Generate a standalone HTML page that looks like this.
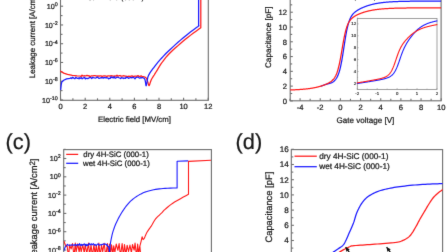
<!DOCTYPE html>
<html><head><meta charset="utf-8"><style>
html,body{margin:0;padding:0;background:#fff;}
svg{display:block;}
text{font-family:"Liberation Sans", Arial, Helvetica, sans-serif;fill:#1a1a1a;text-rendering:geometricPrecision;stroke:#1a1a1a;stroke-width:0.24px;}
</style></head><body>
<svg width="448" height="252" viewBox="0 0 448 252">
<defs><filter id="soft" x="0" y="0" width="448" height="252" filterUnits="userSpaceOnUse" color-interpolation-filters="sRGB"><feConvolveMatrix order="3" kernelMatrix="0.0064 0.0672 0.0064 0.0672 0.7056 0.0672 0.0064 0.0672 0.0064" edgeMode="duplicate" preserveAlpha="true"/></filter></defs>
<g filter="url(#soft)">
<rect width="448" height="252" fill="#fff"/>
<rect x="60.5" y="-30" width="147.8" height="130.3" fill="none" stroke="#6e6e6e" stroke-width="1.1"/>
<line x1="60.6" y1="100.3" x2="60.6" y2="97.7" stroke="#6e6e6e" stroke-width="1.1"/>
<line x1="72.9" y1="100.3" x2="72.9" y2="98.3" stroke="#6e6e6e" stroke-width="1.1"/>
<line x1="85.2" y1="100.3" x2="85.2" y2="97.7" stroke="#6e6e6e" stroke-width="1.1"/>
<line x1="97.5" y1="100.3" x2="97.5" y2="98.3" stroke="#6e6e6e" stroke-width="1.1"/>
<line x1="109.80000000000001" y1="100.3" x2="109.80000000000001" y2="97.7" stroke="#6e6e6e" stroke-width="1.1"/>
<line x1="122.1" y1="100.3" x2="122.1" y2="98.3" stroke="#6e6e6e" stroke-width="1.1"/>
<line x1="134.4" y1="100.3" x2="134.4" y2="97.7" stroke="#6e6e6e" stroke-width="1.1"/>
<line x1="146.70000000000002" y1="100.3" x2="146.70000000000002" y2="98.3" stroke="#6e6e6e" stroke-width="1.1"/>
<line x1="159.0" y1="100.3" x2="159.0" y2="97.7" stroke="#6e6e6e" stroke-width="1.1"/>
<line x1="171.3" y1="100.3" x2="171.3" y2="98.3" stroke="#6e6e6e" stroke-width="1.1"/>
<line x1="183.6" y1="100.3" x2="183.6" y2="97.7" stroke="#6e6e6e" stroke-width="1.1"/>
<line x1="195.9" y1="100.3" x2="195.9" y2="98.3" stroke="#6e6e6e" stroke-width="1.1"/>
<line x1="208.20000000000002" y1="100.3" x2="208.20000000000002" y2="97.7" stroke="#6e6e6e" stroke-width="1.1"/>
<line x1="60.5" y1="100.0" x2="63.1" y2="100.0" stroke="#6e6e6e" stroke-width="1.1"/>
<line x1="60.5" y1="90.62" x2="62.5" y2="90.62" stroke="#6e6e6e" stroke-width="1.1"/>
<line x1="60.5" y1="81.24" x2="63.1" y2="81.24" stroke="#6e6e6e" stroke-width="1.1"/>
<line x1="60.5" y1="71.86" x2="62.5" y2="71.86" stroke="#6e6e6e" stroke-width="1.1"/>
<line x1="60.5" y1="62.48" x2="63.1" y2="62.48" stroke="#6e6e6e" stroke-width="1.1"/>
<line x1="60.5" y1="53.099999999999994" x2="62.5" y2="53.099999999999994" stroke="#6e6e6e" stroke-width="1.1"/>
<line x1="60.5" y1="43.72" x2="63.1" y2="43.72" stroke="#6e6e6e" stroke-width="1.1"/>
<line x1="60.5" y1="34.33999999999999" x2="62.5" y2="34.33999999999999" stroke="#6e6e6e" stroke-width="1.1"/>
<line x1="60.5" y1="24.959999999999994" x2="63.1" y2="24.959999999999994" stroke="#6e6e6e" stroke-width="1.1"/>
<line x1="60.5" y1="15.579999999999998" x2="62.5" y2="15.579999999999998" stroke="#6e6e6e" stroke-width="1.1"/>
<line x1="60.5" y1="6.199999999999989" x2="63.1" y2="6.199999999999989" stroke="#6e6e6e" stroke-width="1.1"/>
<line x1="60.5" y1="-3.180000000000007" x2="62.5" y2="-3.180000000000007" stroke="#6e6e6e" stroke-width="1.1"/>
<line x1="60.5" y1="-12.560000000000002" x2="63.1" y2="-12.560000000000002" stroke="#6e6e6e" stroke-width="1.1"/>
<text x="60.60" y="109.3" font-size="7.5" text-anchor="middle" >0</text>
<text x="85.20" y="109.3" font-size="7.5" text-anchor="middle" >2</text>
<text x="109.80" y="109.3" font-size="7.5" text-anchor="middle" >4</text>
<text x="134.40" y="109.3" font-size="7.5" text-anchor="middle" >6</text>
<text x="159.00" y="109.3" font-size="7.5" text-anchor="middle" >8</text>
<text x="183.60" y="109.3" font-size="7.5" text-anchor="middle" >10</text>
<text x="208.20" y="109.3" font-size="7.5" text-anchor="middle" >12</text>
<text x="57.6" y="102.59" font-size="7.2" text-anchor="end">10<tspan font-size="5.3" dy="-2.74">-10</tspan></text>
<text x="57.6" y="83.83" font-size="7.2" text-anchor="end">10<tspan font-size="5.3" dy="-2.74">-8</tspan></text>
<text x="57.6" y="65.07" font-size="7.2" text-anchor="end">10<tspan font-size="5.3" dy="-2.74">-6</tspan></text>
<text x="57.6" y="46.31" font-size="7.2" text-anchor="end">10<tspan font-size="5.3" dy="-2.74">-4</tspan></text>
<text x="57.6" y="27.55" font-size="7.2" text-anchor="end">10<tspan font-size="5.3" dy="-2.74">-2</tspan></text>
<text x="57.6" y="8.79" font-size="7.2" text-anchor="end">10<tspan font-size="5.3" dy="-2.74">0</tspan></text>
<text x="134.5" y="121.6" font-size="7.8" text-anchor="middle" >Electric field [MV/cm]</text>
<text transform="translate(34.7,78.2) rotate(-90)" font-size="7.9">Leakage current [A/cm<tspan font-size="5.3" dy="-2.7">2</tspan><tspan dy="2.7">]</tspan></text>
<text x="83.2" y="-0.35" font-size="7.1" text-anchor="start" >wet 4H-SiC (000-1)</text>
<polyline points="60.70,71.20 63.70,73.10 67.50,74.40 72.30,75.30 77.00,75.80 80.00,76.00 81.00,76.51 82.00,75.13 83.00,76.03 84.00,75.73 85.00,75.76 86.00,75.84 87.00,75.29 88.00,75.83 89.00,75.64 90.00,76.90 91.00,75.97 92.00,75.79 93.00,75.82 94.00,75.70 95.00,75.58 96.00,75.78 97.00,76.04 98.00,75.83 99.00,76.19 100.00,75.84 101.00,75.91 102.00,76.36 103.00,76.06 104.00,75.75 105.00,75.85 106.00,76.06 107.00,76.48 108.00,75.82 109.00,75.83 110.00,76.20 111.00,75.63 112.00,75.81 113.00,76.16 114.00,76.07 115.00,75.93 116.00,76.12 117.00,75.09 118.00,76.26 119.00,75.68 120.00,75.49 121.00,76.09 122.00,76.24 123.00,75.91 124.00,75.74 125.00,76.09 126.00,76.08 127.00,76.54 128.00,76.36 129.00,76.21 130.00,76.50 131.00,76.12 132.00,75.93 133.00,76.40 134.00,76.41 135.00,76.19 136.00,76.04 137.00,76.36 138.00,75.56 139.00,76.54 140.00,76.49 141.00,75.87 142.00,76.40 143.00,76.50 143.63,76.70 144.53,76.96 145.50,77.40 146.30,78.10 146.90,79.26 147.40,80.77 147.83,82.29 148.20,83.50 148.49,84.37 148.70,85.06 148.88,85.50 149.10,85.60 149.36,85.25 149.64,84.52 149.92,83.63 150.20,82.80 150.46,82.06 150.71,81.31 150.98,80.55 151.30,79.80 151.68,79.04 152.11,78.28 152.56,77.52 153.00,76.80 153.40,76.17 153.78,75.60 154.20,74.98 154.70,74.20 155.32,73.20 156.02,72.04 156.76,70.82 157.50,69.60 158.22,68.40 158.96,67.17 159.71,65.93 160.50,64.70 161.33,63.47 162.19,62.24 163.08,61.02 164.00,59.80 164.94,58.60 165.91,57.41 166.92,56.21 168.00,55.00 169.18,53.75 170.44,52.47 171.73,51.21 173.00,50.00 174.13,48.95 175.19,48.01 176.40,46.97 178.00,45.60 180.15,43.76 182.69,41.59 185.38,39.33 188.00,37.20 190.67,35.13 193.45,33.05 196.01,31.17 198.00,29.70 199.27,28.77 200.03,28.23 200.47,27.93 200.80,27.70 200.80,-5.00" fill="none" stroke="#ff1a1a" stroke-width="1.25" stroke-linejoin="round" stroke-linecap="round" />
<polyline points="60.70,89.50 61.20,85.00 61.80,81.90 63.70,80.30 66.60,78.90 70.00,78.40 71.00,77.77 71.80,78.54 72.60,77.28 73.40,77.79 74.20,78.52 75.00,78.72 75.80,77.23 76.60,77.98 77.40,78.35 78.20,77.93 79.00,78.92 79.80,77.66 80.60,78.35 81.40,77.70 82.20,78.79 83.00,78.13 83.80,77.96 84.60,77.33 85.40,78.85 86.20,78.41 87.00,78.40 87.80,78.56 88.60,78.19 89.40,77.72 90.20,77.64 91.00,77.62 91.80,78.58 92.60,77.29 93.40,77.66 94.20,77.77 95.00,78.00 95.80,78.14 96.60,77.31 97.40,77.07 98.20,77.83 99.00,78.37 99.80,78.14 100.60,77.89 101.40,77.63 102.20,77.89 103.00,77.63 103.80,78.09 104.60,77.35 105.40,77.76 106.20,77.65 107.00,77.94 107.80,77.80 108.60,78.85 109.40,78.37 110.20,78.37 111.00,76.78 111.80,77.55 112.60,77.43 113.40,77.94 114.20,76.67 115.00,78.23 115.80,78.18 116.60,77.11 117.40,77.26 118.20,77.34 119.00,77.72 119.80,77.99 120.60,78.62 121.40,77.61 122.20,78.05 123.00,77.77 123.80,78.49 124.60,78.03 125.40,78.32 126.20,77.22 127.00,77.61 127.80,77.33 128.60,78.38 129.40,78.00 130.20,77.56 131.00,77.50 131.80,77.92 132.60,77.38 133.40,77.28 134.20,77.92 135.00,78.81 135.80,77.59 136.60,77.45 137.40,77.17 138.20,77.10 139.00,77.94 139.80,78.08 140.60,77.70 141.40,77.85 142.00,77.60 142.29,77.65 142.72,77.71 143.18,77.81 143.60,78.00 143.96,78.25 144.31,78.56 144.62,78.96 144.90,79.50 145.12,80.25 145.30,81.17 145.45,82.13 145.60,83.00 145.73,83.88 145.85,84.78 145.97,85.50 146.10,85.80 146.26,85.55 146.44,84.90 146.63,84.05 146.80,83.20 146.96,82.35 147.11,81.42 147.25,80.47 147.40,79.60 147.53,78.83 147.64,78.12 147.79,77.42 148.00,76.70 148.30,75.93 148.68,75.14 149.08,74.35 149.50,73.60 149.89,72.94 150.28,72.34 150.73,71.69 151.30,70.90 152.04,69.89 152.91,68.74 153.82,67.55 154.70,66.40 155.49,65.36 156.25,64.37 157.06,63.34 158.00,62.20 159.13,60.89 160.39,59.46 161.71,58.00 163.00,56.60 164.13,55.39 165.19,54.27 166.40,53.05 168.00,51.50 170.15,49.47 172.69,47.11 175.38,44.64 178.00,42.30 180.50,40.12 183.00,37.99 185.50,35.91 188.00,33.90 190.72,31.82 193.59,29.71 196.16,27.85 198.00,26.50 198.82,25.86 198.93,25.74 198.71,25.85 198.60,25.90 198.60,-5.00" fill="none" stroke="#1a1aff" stroke-width="1.25" stroke-linejoin="round" stroke-linecap="round" />
<rect x="290.2" y="-30" width="150.90000000000003" height="130.8" fill="none" stroke="#6e6e6e" stroke-width="1.1"/>
<line x1="290.0" y1="100.8" x2="290.0" y2="98.8" stroke="#6e6e6e" stroke-width="1.1"/>
<line x1="300.08" y1="100.8" x2="300.08" y2="98.2" stroke="#6e6e6e" stroke-width="1.1"/>
<line x1="310.15999999999997" y1="100.8" x2="310.15999999999997" y2="98.8" stroke="#6e6e6e" stroke-width="1.1"/>
<line x1="320.23999999999995" y1="100.8" x2="320.23999999999995" y2="98.2" stroke="#6e6e6e" stroke-width="1.1"/>
<line x1="330.32" y1="100.8" x2="330.32" y2="98.8" stroke="#6e6e6e" stroke-width="1.1"/>
<line x1="340.4" y1="100.8" x2="340.4" y2="98.2" stroke="#6e6e6e" stroke-width="1.1"/>
<line x1="350.47999999999996" y1="100.8" x2="350.47999999999996" y2="98.8" stroke="#6e6e6e" stroke-width="1.1"/>
<line x1="360.56" y1="100.8" x2="360.56" y2="98.2" stroke="#6e6e6e" stroke-width="1.1"/>
<line x1="370.64" y1="100.8" x2="370.64" y2="98.8" stroke="#6e6e6e" stroke-width="1.1"/>
<line x1="380.71999999999997" y1="100.8" x2="380.71999999999997" y2="98.2" stroke="#6e6e6e" stroke-width="1.1"/>
<line x1="390.79999999999995" y1="100.8" x2="390.79999999999995" y2="98.8" stroke="#6e6e6e" stroke-width="1.1"/>
<line x1="400.88" y1="100.8" x2="400.88" y2="98.2" stroke="#6e6e6e" stroke-width="1.1"/>
<line x1="410.96" y1="100.8" x2="410.96" y2="98.8" stroke="#6e6e6e" stroke-width="1.1"/>
<line x1="421.03999999999996" y1="100.8" x2="421.03999999999996" y2="98.2" stroke="#6e6e6e" stroke-width="1.1"/>
<line x1="431.12" y1="100.8" x2="431.12" y2="98.8" stroke="#6e6e6e" stroke-width="1.1"/>
<line x1="441.2" y1="100.8" x2="441.2" y2="98.2" stroke="#6e6e6e" stroke-width="1.1"/>
<line x1="290.2" y1="100.9" x2="292.8" y2="100.9" stroke="#6e6e6e" stroke-width="1.1"/>
<line x1="290.2" y1="93.51" x2="292.2" y2="93.51" stroke="#6e6e6e" stroke-width="1.1"/>
<line x1="290.2" y1="86.12" x2="292.8" y2="86.12" stroke="#6e6e6e" stroke-width="1.1"/>
<line x1="290.2" y1="78.73" x2="292.2" y2="78.73" stroke="#6e6e6e" stroke-width="1.1"/>
<line x1="290.2" y1="71.34" x2="292.8" y2="71.34" stroke="#6e6e6e" stroke-width="1.1"/>
<line x1="290.2" y1="63.95000000000001" x2="292.2" y2="63.95000000000001" stroke="#6e6e6e" stroke-width="1.1"/>
<line x1="290.2" y1="56.56000000000001" x2="292.8" y2="56.56000000000001" stroke="#6e6e6e" stroke-width="1.1"/>
<line x1="290.2" y1="49.17000000000001" x2="292.2" y2="49.17000000000001" stroke="#6e6e6e" stroke-width="1.1"/>
<line x1="290.2" y1="41.78000000000001" x2="292.8" y2="41.78000000000001" stroke="#6e6e6e" stroke-width="1.1"/>
<line x1="290.2" y1="34.390000000000015" x2="292.2" y2="34.390000000000015" stroke="#6e6e6e" stroke-width="1.1"/>
<line x1="290.2" y1="27.000000000000014" x2="292.8" y2="27.000000000000014" stroke="#6e6e6e" stroke-width="1.1"/>
<line x1="290.2" y1="19.610000000000014" x2="292.2" y2="19.610000000000014" stroke="#6e6e6e" stroke-width="1.1"/>
<line x1="290.2" y1="12.220000000000013" x2="292.8" y2="12.220000000000013" stroke="#6e6e6e" stroke-width="1.1"/>
<line x1="290.2" y1="4.8300000000000125" x2="292.2" y2="4.8300000000000125" stroke="#6e6e6e" stroke-width="1.1"/>
<line x1="290.2" y1="-2.559999999999988" x2="292.8" y2="-2.559999999999988" stroke="#6e6e6e" stroke-width="1.1"/>
<text x="300.08" y="109.6" font-size="7.6" text-anchor="middle" >-4</text>
<text x="320.24" y="109.6" font-size="7.6" text-anchor="middle" >-2</text>
<text x="340.40" y="109.6" font-size="7.6" text-anchor="middle" >0</text>
<text x="360.56" y="109.6" font-size="7.6" text-anchor="middle" >2</text>
<text x="380.72" y="109.6" font-size="7.6" text-anchor="middle" >4</text>
<text x="400.88" y="109.6" font-size="7.6" text-anchor="middle" >6</text>
<text x="421.04" y="109.6" font-size="7.6" text-anchor="middle" >8</text>
<text x="441.20" y="109.6" font-size="7.6" text-anchor="middle" >10</text>
<text x="287.0" y="103.65" font-size="7.6" text-anchor="end" >0</text>
<text x="287.0" y="88.87" font-size="7.6" text-anchor="end" >2</text>
<text x="287.0" y="74.09" font-size="7.6" text-anchor="end" >4</text>
<text x="287.0" y="59.31" font-size="7.6" text-anchor="end" >6</text>
<text x="287.0" y="44.53" font-size="7.6" text-anchor="end" >8</text>
<text x="287.0" y="29.75" font-size="7.6" text-anchor="end" >10</text>
<text x="287.0" y="14.97" font-size="7.6" text-anchor="end" >12</text>
<text x="287.0" y="0.19" font-size="7.6" text-anchor="end" >14</text>
<text x="365.4" y="123.0" font-size="8.05" text-anchor="middle" >Gate voltage [V]</text>
<text transform="translate(270.8,68.0) rotate(-90)" font-size="8.13">Capacitance [pF]</text>
<text x="315.6" y="-0.6" font-size="7.1" text-anchor="start" >wet 4H-SiC (000-1)</text>
<clipPath id="cb"><rect x="290.2" y="-10" width="150.9" height="110.8"/></clipPath>
<g clip-path="url(#cb)">
<polyline points="321.30,85.99 321.55,85.91 321.81,85.83 322.06,85.75 322.31,85.67 322.56,85.58 322.81,85.50 323.07,85.41 323.32,85.32 323.57,85.23 323.82,85.14 324.08,85.04 324.33,84.95 324.58,84.85 324.83,84.76 325.09,84.67 325.34,84.59 325.59,84.51 325.84,84.43 326.10,84.35 326.35,84.28 326.60,84.20 326.85,84.13 327.11,84.06 327.36,84.00 327.61,83.93 327.86,83.86 328.12,83.80 328.37,83.73 328.62,83.67 328.87,83.60 329.13,83.53 329.38,83.47 329.63,83.40 329.88,83.32 330.13,83.25 330.39,83.17 330.64,83.09 330.89,83.00 331.14,82.91 331.40,82.81 331.65,82.70 331.90,82.59 332.15,82.46 332.41,82.33 332.66,82.18 332.91,82.02 333.16,81.84 333.42,81.64 333.67,81.44 333.92,81.22 334.17,80.99 334.43,80.75 334.68,80.49 334.93,80.22 335.18,79.94 335.44,79.64 335.69,79.32 335.94,78.98 336.19,78.62 336.45,78.23 336.70,77.82 336.95,77.38 337.20,76.92 337.46,76.42 337.71,75.89 337.96,75.31 338.21,74.70 338.46,74.05 338.72,73.36 338.97,72.61 339.22,71.82 339.47,70.97 339.73,70.08 339.98,69.12 340.23,68.11 340.48,67.03 340.74,65.90 340.99,64.71 341.24,63.46 341.49,62.15 341.75,60.79 342.00,59.37 342.25,57.90 342.50,56.39 342.76,54.83 343.01,53.25 343.26,51.63 343.51,50.00 343.77,48.35 344.02,46.70 344.27,45.05 344.52,43.41 344.78,41.79 345.03,40.20 345.28,38.63 345.53,37.11 345.78,35.63 346.04,34.20 346.29,32.82 346.54,31.49 346.79,30.23 347.05,29.02 347.30,27.87 347.55,26.78 347.80,25.74 348.06,24.77 348.31,23.85 348.56,22.98 348.81,22.17 349.07,21.41 349.32,20.69 349.57,20.01 349.82,19.38 350.08,18.79 350.33,18.23 350.58,17.71 350.83,17.22 351.09,16.76 351.34,16.33 351.59,15.92 351.84,15.54 352.10,15.17 352.35,14.83 352.60,14.50 352.85,14.20 353.11,13.90 353.36,13.62 353.61,13.36 353.86,13.10 354.11,12.86 354.37,12.62 354.62,12.40 354.87,12.18 355.12,11.97 355.38,11.77 355.63,11.58 355.88,11.39 356.13,11.20 356.39,11.03 356.64,10.85 356.89,10.68 357.14,10.52 357.40,10.36 357.65,10.20 357.90,10.05 358.15,9.90 358.41,9.75 358.66,9.60 358.91,9.46 359.16,9.32 359.42,9.19 359.67,9.05 359.92,8.92 360.17,8.79 360.43,8.66 360.68,8.54 360.93,8.41 361.18,8.29 361.44,8.17 361.69,8.05 361.94,7.94 362.19,7.82 362.44,7.71 362.70,7.60 362.95,7.49 363.20,7.38 363.45,7.27 363.71,7.17 363.96,7.06 364.21,6.96 364.46,6.86 364.72,6.76 364.97,6.66 365.22,6.57 365.47,6.47 365.73,6.38 365.98,6.29 366.23,6.20 366.48,6.11 366.74,6.02 366.99,5.93 367.24,5.85 367.49,5.76 367.75,5.68 368.00,5.60 368.25,5.52 368.50,5.44 368.76,5.36 369.01,5.28 369.26,5.21 369.51,5.13 369.76,5.06 370.02,4.98 370.27,4.91 370.52,4.84 370.77,4.77 371.03,4.71 371.28,4.64 371.53,4.57 371.78,4.51 372.04,4.45 372.29,4.38 372.54,4.32 372.79,4.26 373.05,4.20 373.30,4.14 373.55,4.09 373.80,4.03 374.06,3.97 374.31,3.92 374.56,3.87 374.81,3.81 375.07,3.76 375.32,3.71 375.57,3.66 375.82,3.61 376.08,3.56 376.33,3.52 376.58,3.47 376.83,3.42 377.09,3.38 377.34,3.33 377.59,3.29 377.84,3.25 378.09,3.21 378.35,3.16 378.60,3.12 378.85,3.08 379.10,3.05 379.36,3.01 379.61,2.97 379.86,2.93 380.11,2.90 380.37,2.86 380.62,2.83 380.87,2.79 381.12,2.76 381.38,2.73 381.63,2.69 381.88,2.66 382.13,2.63 382.39,2.60 382.64,2.57 382.89,2.54 383.14,2.51 383.40,2.48 383.65,2.46 383.90,2.43 384.15,2.40 384.41,2.37 384.66,2.35 384.91,2.32 385.16,2.30 385.42,2.27 385.67,2.25 385.92,2.23 386.17,2.20 386.42,2.18 386.68,2.16 386.93,2.14 387.18,2.12 387.43,2.10 387.69,2.08 387.94,2.06 388.19,2.04 388.44,2.02 388.70,2.00 388.95,1.98 389.20,1.96 389.45,1.94 389.71,1.93 389.96,1.91 390.21,1.89 390.46,1.88 390.72,1.86 390.97,1.84 391.22,1.83 391.47,1.81 391.73,1.80 391.98,1.78 392.23,1.77 392.48,1.76 392.74,1.74 392.99,1.73 393.24,1.72 393.49,1.70 393.74,1.69 394.00,1.68 394.25,1.67 394.50,1.65 394.75,1.64 395.01,1.63 395.26,1.62 395.51,1.61 395.76,1.60 396.02,1.59 396.27,1.58 396.52,1.57 396.77,1.56 397.03,1.55 397.28,1.54 397.53,1.53 397.78,1.52 398.04,1.51 398.29,1.50 398.54,1.49 398.79,1.48 399.05,1.48 399.30,1.47 399.55,1.46 399.80,1.45 400.06,1.44 400.31,1.44 400.56,1.43 400.81,1.42 401.07,1.42 401.32,1.41 401.57,1.40 401.82,1.40 402.07,1.39 402.33,1.38 402.58,1.38 402.83,1.37 403.08,1.36 403.34,1.36 403.59,1.35 403.84,1.35 404.09,1.34 404.35,1.34 404.60,1.33 404.85,1.33 405.10,1.32 405.36,1.32 405.61,1.31 405.86,1.31 406.11,1.30 406.37,1.30 406.62,1.29 406.87,1.29 407.12,1.28 407.38,1.28 407.63,1.28 407.88,1.27 408.13,1.27 408.39,1.26 408.64,1.26 408.89,1.26 409.14,1.25 409.39,1.25 409.65,1.25 409.90,1.24 410.15,1.24 410.40,1.24 410.66,1.23 410.91,1.23 411.16,1.23 411.41,1.22 411.67,1.22 411.92,1.22 412.17,1.21 412.42,1.21 412.68,1.21 412.93,1.21 413.18,1.20 413.43,1.20 413.69,1.20 413.94,1.20 414.19,1.19 414.44,1.19 414.70,1.19 414.95,1.19 415.20,1.19 415.45,1.18 415.71,1.18 415.96,1.18 416.21,1.18 416.46,1.17 416.72,1.17 416.97,1.17 417.22,1.17 417.47,1.17 417.72,1.17 417.98,1.16 418.23,1.16 418.48,1.16 418.73,1.16 418.99,1.16 419.24,1.16 419.49,1.15 419.74,1.15 420.00,1.15 420.25,1.15 420.50,1.15 420.75,1.15 421.01,1.15 421.26,1.14 421.51,1.14 421.76,1.14 422.02,1.14 422.27,1.14 422.52,1.14 422.77,1.14 423.03,1.14 423.28,1.13 423.53,1.13 423.78,1.13 424.04,1.13 424.29,1.13 424.54,1.13 424.79,1.13 425.05,1.13 425.30,1.13 425.55,1.13 425.80,1.12 426.05,1.12 426.31,1.12 426.56,1.12 426.81,1.12 427.06,1.12 427.32,1.12 427.57,1.12 427.82,1.12 428.07,1.12 428.33,1.12 428.58,1.12 428.83,1.11 429.08,1.11 429.34,1.11 429.59,1.11 429.84,1.11 430.09,1.11 430.35,1.11 430.60,1.11 430.85,1.11 431.10,1.11 431.36,1.11 431.61,1.11 431.86,1.11 432.11,1.11 432.37,1.11 432.62,1.11 432.87,1.11 433.12,1.10 433.37,1.10 433.63,1.10 433.88,1.10 434.13,1.10 434.38,1.10 434.64,1.10 434.89,1.10 435.14,1.10 435.39,1.10 435.65,1.10 435.90,1.10 436.15,1.10 436.40,1.10 436.66,1.10 436.91,1.10 437.16,1.10 437.41,1.10 437.67,1.10 437.92,1.10 438.17,1.10 438.42,1.10 438.68,1.10 438.93,1.10 439.18,1.10 439.43,1.10 439.69,1.09 439.94,1.09 440.19,1.09 440.44,1.09 440.70,1.09 440.95,1.09 441.20,1.09" fill="none" stroke="#1a1aff" stroke-width="1.25" stroke-linejoin="round" stroke-linecap="round" />
<polyline points="290.00,89.95 290.25,89.94 290.50,89.93 290.76,89.92 291.01,89.91 291.26,89.91 291.51,89.90 291.77,89.89 292.02,89.88 292.27,89.87 292.52,89.86 292.78,89.85 293.03,89.84 293.28,89.83 293.53,89.82 293.79,89.81 294.04,89.80 294.29,89.79 294.54,89.78 294.80,89.77 295.05,89.76 295.30,89.75 295.55,89.73 295.81,89.72 296.06,89.71 296.31,89.70 296.56,89.68 296.82,89.67 297.07,89.66 297.32,89.64 297.57,89.63 297.83,89.62 298.08,89.60 298.33,89.59 298.58,89.57 298.83,89.56 299.09,89.54 299.34,89.53 299.59,89.51 299.84,89.49 300.10,89.48 300.35,89.46 300.60,89.44 300.85,89.42 301.11,89.40 301.36,89.39 301.61,89.37 301.86,89.35 302.12,89.33 302.37,89.31 302.62,89.29 302.87,89.27 303.13,89.24 303.38,89.22 303.63,89.20 303.88,89.18 304.14,89.15 304.39,89.13 304.64,89.11 304.89,89.08 305.15,89.06 305.40,89.03 305.65,89.00 305.90,88.98 306.15,88.95 306.41,88.92 306.66,88.90 306.91,88.87 307.16,88.84 307.42,88.81 307.67,88.78 307.92,88.75 308.17,88.71 308.43,88.68 308.68,88.65 308.93,88.62 309.18,88.58 309.44,88.55 309.69,88.51 309.94,88.48 310.19,88.44 310.45,88.40 310.70,88.37 310.95,88.33 311.20,88.29 311.46,88.25 311.71,88.21 311.96,88.17 312.21,88.12 312.47,88.08 312.72,88.04 312.97,87.99 313.22,87.95 313.48,87.90 313.73,87.85 313.98,87.80 314.23,87.76 314.48,87.71 314.74,87.66 314.99,87.60 315.24,87.55 315.49,87.50 315.75,87.45 316.00,87.39 316.25,87.33 316.50,87.28 316.76,87.22 317.01,87.16 317.26,87.10 317.51,87.04 317.77,86.98 318.02,86.91 318.27,86.85 318.52,86.79 318.78,86.72 319.03,86.65 319.28,86.58 319.53,86.51 319.79,86.44 320.04,86.37 320.29,86.30 320.54,86.22 320.80,86.15 321.05,86.07 321.30,85.99 321.55,85.91 321.81,85.83 322.06,85.75 322.31,85.67 322.56,85.58 322.81,85.50 323.07,85.41 323.32,85.32 323.57,85.23 323.82,85.14 324.08,85.04 324.33,84.95 324.58,84.85 324.83,84.75 325.09,84.65 325.34,84.55 325.59,84.44 325.84,84.34 326.10,84.23 326.35,84.12 326.60,84.00 326.85,83.89 327.11,83.77 327.36,83.65 327.61,83.52 327.86,83.40 328.12,83.27 328.37,83.14 328.62,83.00 328.87,82.86 329.13,82.71 329.38,82.57 329.63,82.41 329.88,82.26 330.13,82.09 330.39,81.92 330.64,81.75 330.89,81.57 331.14,81.38 331.40,81.18 331.65,80.98 331.90,80.76 332.15,80.54 332.41,80.30 332.66,80.06 332.91,79.80 333.16,79.52 333.42,79.23 333.67,78.93 333.92,78.61 334.17,78.27 334.43,77.90 334.68,77.52 334.93,77.11 335.18,76.68 335.44,76.22 335.69,75.72 335.94,75.20 336.19,74.64 336.45,74.05 336.70,73.41 336.95,72.74 337.20,72.02 337.46,71.26 337.71,70.45 337.96,69.59 338.21,68.68 338.46,67.72 338.72,66.71 338.97,65.65 339.22,64.53 339.47,63.37 339.73,62.15 339.98,60.89 340.23,59.58 340.48,58.24 340.74,56.85 340.99,55.44 341.24,54.00 341.49,52.54 341.75,51.06 342.00,49.58 342.25,48.10 342.50,46.62 342.76,45.16 343.01,43.72 343.26,42.30 343.51,40.91 343.77,39.56 344.02,38.25 344.27,36.98 344.52,35.76 344.78,34.59 345.03,33.47 345.28,32.40 345.53,31.38 345.78,30.42 346.04,29.50 346.29,28.64 346.54,27.82 346.79,27.05 347.05,26.32 347.30,25.64 347.55,25.00 347.80,24.40 348.06,23.83 348.31,23.30 348.56,22.80 348.81,22.33 349.07,21.89 349.32,21.48 349.57,21.09 349.82,20.72 350.08,20.37 350.33,20.04 350.58,19.73 350.83,19.43 351.09,19.15 351.34,18.89 351.59,18.63 351.84,18.39 352.10,18.16 352.35,17.94 352.60,17.73 352.85,17.52 353.11,17.33 353.36,17.14 353.61,16.96 353.86,16.78 354.11,16.61 354.37,16.45 354.62,16.29 354.87,16.13 355.12,15.98 355.38,15.83 355.63,15.69 355.88,15.55 356.13,15.41 356.39,15.28 356.64,15.15 356.89,15.02 357.14,14.89 357.40,14.77 357.65,14.65 357.90,14.53 358.15,14.41 358.41,14.30 358.66,14.19 358.91,14.08 359.16,13.97 359.42,13.86 359.67,13.76 359.92,13.66 360.17,13.56 360.43,13.46 360.68,13.36 360.93,13.26 361.18,13.17 361.44,13.07 361.69,12.98 361.94,12.89 362.19,12.80 362.44,12.72 362.70,12.63 362.95,12.54 363.20,12.46 363.45,12.38 363.71,12.30 363.96,12.22 364.21,12.14 364.46,12.06 364.72,11.99 364.97,11.91 365.22,11.84 365.47,11.77 365.73,11.69 365.98,11.62 366.23,11.56 366.48,11.49 366.74,11.42 366.99,11.35 367.24,11.29 367.49,11.23 367.75,11.16 368.00,11.10 368.25,11.04 368.50,10.98 368.76,10.92 369.01,10.87 369.26,10.81 369.51,10.75 369.76,10.70 370.02,10.65 370.27,10.59 370.52,10.54 370.77,10.49 371.03,10.44 371.28,10.39 371.53,10.34 371.78,10.29 372.04,10.25 372.29,10.20 372.54,10.16 372.79,10.11 373.05,10.07 373.30,10.02 373.55,9.98 373.80,9.94 374.06,9.90 374.31,9.86 374.56,9.82 374.81,9.78 375.07,9.75 375.32,9.71 375.57,9.67 375.82,9.64 376.08,9.60 376.33,9.57 376.58,9.53 376.83,9.50 377.09,9.47 377.34,9.44 377.59,9.40 377.84,9.37 378.09,9.34 378.35,9.31 378.60,9.29 378.85,9.26 379.10,9.23 379.36,9.20 379.61,9.17 379.86,9.15 380.11,9.12 380.37,9.10 380.62,9.07 380.87,9.05 381.12,9.02 381.38,9.00 381.63,8.98 381.88,8.95 382.13,8.93 382.39,8.91 382.64,8.89 382.89,8.87 383.14,8.85 383.40,8.83 383.65,8.81 383.90,8.79 384.15,8.77 384.41,8.75 384.66,8.73 384.91,8.71 385.16,8.70 385.42,8.68 385.67,8.66 385.92,8.65 386.17,8.63 386.42,8.61 386.68,8.60 386.93,8.58 387.18,8.57 387.43,8.55 387.69,8.54 387.94,8.53 388.19,8.51 388.44,8.50 388.70,8.49 388.95,8.47 389.20,8.46 389.45,8.45 389.71,8.43 389.96,8.42 390.21,8.41 390.46,8.40 390.72,8.39 390.97,8.38 391.22,8.37 391.47,8.36 391.73,8.35 391.98,8.34 392.23,8.33 392.48,8.32 392.74,8.31 392.99,8.30 393.24,8.29 393.49,8.28 393.74,8.27 394.00,8.26 394.25,8.25 394.50,8.24 394.75,8.24 395.01,8.23 395.26,8.22 395.51,8.21 395.76,8.20 396.02,8.20 396.27,8.19 396.52,8.18 396.77,8.18 397.03,8.17 397.28,8.16 397.53,8.16 397.78,8.15 398.04,8.14 398.29,8.14 398.54,8.13 398.79,8.13 399.05,8.12 399.30,8.11 399.55,8.11 399.80,8.10 400.06,8.10 400.31,8.09 400.56,8.09 400.81,8.08 401.07,8.08 401.32,8.07 401.57,8.07 401.82,8.06 402.07,8.06 402.33,8.06 402.58,8.05 402.83,8.05 403.08,8.04 403.34,8.04 403.59,8.03 403.84,8.03 404.09,8.03 404.35,8.02 404.60,8.02 404.85,8.02 405.10,8.01 405.36,8.01 405.61,8.01 405.86,8.00 406.11,8.00 406.37,8.00 406.62,7.99 406.87,7.99 407.12,7.99 407.38,7.98 407.63,7.98 407.88,7.98 408.13,7.98 408.39,7.97 408.64,7.97 408.89,7.97 409.14,7.97 409.39,7.96 409.65,7.96 409.90,7.96 410.15,7.96 410.40,7.95 410.66,7.95 410.91,7.95 411.16,7.95 411.41,7.94 411.67,7.94 411.92,7.94 412.17,7.94 412.42,7.94 412.68,7.94 412.93,7.93 413.18,7.93 413.43,7.93 413.69,7.93 413.94,7.93 414.19,7.92 414.44,7.92 414.70,7.92 414.95,7.92 415.20,7.92 415.45,7.92 415.71,7.92 415.96,7.91 416.21,7.91 416.46,7.91 416.72,7.91 416.97,7.91 417.22,7.91 417.47,7.91 417.72,7.90 417.98,7.90 418.23,7.90 418.48,7.90 418.73,7.90 418.99,7.90 419.24,7.90 419.49,7.90 419.74,7.90 420.00,7.89 420.25,7.89 420.50,7.89 420.75,7.89 421.01,7.89 421.26,7.89 421.51,7.89 421.76,7.89 422.02,7.89 422.27,7.89 422.52,7.89 422.77,7.88 423.03,7.88 423.28,7.88 423.53,7.88 423.78,7.88 424.04,7.88 424.29,7.88 424.54,7.88 424.79,7.88 425.05,7.88 425.30,7.88 425.55,7.88 425.80,7.88 426.05,7.88 426.31,7.88 426.56,7.87 426.81,7.87 427.06,7.87 427.32,7.87 427.57,7.87 427.82,7.87 428.07,7.87 428.33,7.87 428.58,7.87 428.83,7.87 429.08,7.87 429.34,7.87 429.59,7.87 429.84,7.87 430.09,7.87 430.35,7.87 430.60,7.87 430.85,7.87 431.10,7.87 431.36,7.87 431.61,7.86 431.86,7.86 432.11,7.86 432.37,7.86 432.62,7.86 432.87,7.86 433.12,7.86 433.37,7.86 433.63,7.86 433.88,7.86 434.13,7.86 434.38,7.86 434.64,7.86 434.89,7.86 435.14,7.86 435.39,7.86 435.65,7.86 435.90,7.86 436.15,7.86 436.40,7.86 436.66,7.86 436.91,7.86 437.16,7.86 437.41,7.86 437.67,7.86 437.92,7.86 438.17,7.86 438.42,7.86 438.68,7.86 438.93,7.86 439.18,7.86 439.43,7.86 439.69,7.86 439.94,7.86 440.19,7.86 440.44,7.86 440.70,7.86 440.95,7.86 441.20,7.85" fill="none" stroke="#ff1a1a" stroke-width="1.25" stroke-linejoin="round" stroke-linecap="round" />
</g>
<rect x="357.3" y="18.4" width="79.69999999999999" height="71.0" fill="#fff" stroke="#888" stroke-width="0.8"/>
<line x1="357.26" y1="89.4" x2="357.26" y2="88.10000000000001" stroke="#888" stroke-width="0.6"/>
<line x1="367.22" y1="89.4" x2="367.22" y2="88.60000000000001" stroke="#888" stroke-width="0.6"/>
<line x1="377.18" y1="89.4" x2="377.18" y2="88.10000000000001" stroke="#888" stroke-width="0.6"/>
<line x1="387.14" y1="89.4" x2="387.14" y2="88.60000000000001" stroke="#888" stroke-width="0.6"/>
<line x1="397.10" y1="89.4" x2="397.10" y2="88.10000000000001" stroke="#888" stroke-width="0.6"/>
<line x1="407.06" y1="89.4" x2="407.06" y2="88.60000000000001" stroke="#888" stroke-width="0.6"/>
<line x1="417.02" y1="89.4" x2="417.02" y2="88.10000000000001" stroke="#888" stroke-width="0.6"/>
<line x1="426.98" y1="89.4" x2="426.98" y2="88.60000000000001" stroke="#888" stroke-width="0.6"/>
<line x1="436.94" y1="89.4" x2="436.94" y2="88.10000000000001" stroke="#888" stroke-width="0.6"/>
<line x1="357.3" y1="89.35" x2="358.1" y2="89.35" stroke="#888" stroke-width="0.6"/>
<line x1="357.3" y1="83.40" x2="358.6" y2="83.40" stroke="#888" stroke-width="0.6"/>
<line x1="357.3" y1="77.45" x2="358.1" y2="77.45" stroke="#888" stroke-width="0.6"/>
<line x1="357.3" y1="71.50" x2="358.6" y2="71.50" stroke="#888" stroke-width="0.6"/>
<line x1="357.3" y1="65.55" x2="358.1" y2="65.55" stroke="#888" stroke-width="0.6"/>
<line x1="357.3" y1="59.60" x2="358.6" y2="59.60" stroke="#888" stroke-width="0.6"/>
<line x1="357.3" y1="53.65" x2="358.1" y2="53.65" stroke="#888" stroke-width="0.6"/>
<line x1="357.3" y1="47.70" x2="358.6" y2="47.70" stroke="#888" stroke-width="0.6"/>
<line x1="357.3" y1="41.75" x2="358.1" y2="41.75" stroke="#888" stroke-width="0.6"/>
<line x1="357.3" y1="35.80" x2="358.6" y2="35.80" stroke="#888" stroke-width="0.6"/>
<line x1="357.3" y1="29.85" x2="358.1" y2="29.85" stroke="#888" stroke-width="0.6"/>
<line x1="357.3" y1="23.90" x2="358.6" y2="23.90" stroke="#888" stroke-width="0.6"/>
<line x1="357.3" y1="17.95" x2="358.1" y2="17.95" stroke="#888" stroke-width="0.6"/>
<text x="357.26" y="94.6" font-size="4.3" text-anchor="middle" style="stroke-width:0.15px;fill:#222;stroke:#222">-2</text>
<text x="377.18" y="94.6" font-size="4.3" text-anchor="middle" style="stroke-width:0.15px;fill:#222;stroke:#222">-1</text>
<text x="397.10" y="94.6" font-size="4.3" text-anchor="middle" style="stroke-width:0.15px;fill:#222;stroke:#222">0</text>
<text x="417.02" y="94.6" font-size="4.3" text-anchor="middle" style="stroke-width:0.15px;fill:#222;stroke:#222">1</text>
<text x="436.94" y="94.6" font-size="4.3" text-anchor="middle" style="stroke-width:0.15px;fill:#222;stroke:#222">2</text>
<text x="356.10" y="84.70" font-size="4.3" text-anchor="end" style="stroke-width:0.15px;fill:#222;stroke:#222">2</text>
<text x="356.10" y="72.80" font-size="4.3" text-anchor="end" style="stroke-width:0.15px;fill:#222;stroke:#222">4</text>
<text x="356.10" y="60.90" font-size="4.3" text-anchor="end" style="stroke-width:0.15px;fill:#222;stroke:#222">6</text>
<text x="356.10" y="49.00" font-size="4.3" text-anchor="end" style="stroke-width:0.15px;fill:#222;stroke:#222">8</text>
<text x="356.10" y="37.10" font-size="4.3" text-anchor="end" style="stroke-width:0.15px;fill:#222;stroke:#222">10</text>
<text x="356.10" y="25.20" font-size="4.3" text-anchor="end" style="stroke-width:0.15px;fill:#222;stroke:#222">12</text>
<polyline points="357.26,83.54 357.53,83.49 357.79,83.45 358.06,83.41 358.33,83.37 358.59,83.33 358.86,83.29 359.13,83.24 359.39,83.20 359.66,83.16 359.92,83.12 360.19,83.08 360.46,83.03 360.72,82.99 360.99,82.95 361.26,82.91 361.52,82.87 361.79,82.83 362.06,82.78 362.32,82.74 362.59,82.70 362.86,82.66 363.12,82.61 363.39,82.57 363.66,82.53 363.92,82.49 364.19,82.45 364.46,82.40 364.72,82.36 364.99,82.32 365.25,82.28 365.52,82.23 365.79,82.19 366.05,82.15 366.32,82.11 366.59,82.06 366.85,82.02 367.12,81.98 367.39,81.94 367.65,81.89 367.92,81.85 368.19,81.81 368.45,81.77 368.72,81.72 368.99,81.68 369.25,81.64 369.52,81.59 369.78,81.55 370.05,81.51 370.32,81.46 370.58,81.42 370.85,81.38 371.12,81.33 371.38,81.29 371.65,81.24 371.92,81.20 372.18,81.16 372.45,81.11 372.72,81.07 372.98,81.02 373.25,80.98 373.52,80.93 373.78,80.89 374.05,80.84 374.32,80.80 374.58,80.75 374.85,80.71 375.11,80.66 375.38,80.62 375.65,80.57 375.91,80.52 376.18,80.48 376.45,80.43 376.71,80.38 376.98,80.34 377.25,80.29 377.51,80.24 377.78,80.19 378.05,80.14 378.31,80.09 378.58,80.04 378.85,79.99 379.11,79.94 379.38,79.89 379.65,79.84 379.91,79.79 380.18,79.74 380.44,79.68 380.71,79.63 380.98,79.57 381.24,79.52 381.51,79.46 381.78,79.41 382.04,79.35 382.31,79.29 382.58,79.23 382.84,79.17 383.11,79.11 383.38,79.04 383.64,78.98 383.91,78.91 384.18,78.85 384.44,78.78 384.71,78.71 384.97,78.63 385.24,78.56 385.51,78.48 385.77,78.40 386.04,78.32 386.31,78.23 386.57,78.15 386.84,78.06 387.11,77.96 387.37,77.86 387.64,77.76 387.91,77.65 388.17,77.54 388.44,77.43 388.71,77.31 388.97,77.18 389.24,77.04 389.51,76.90 389.77,76.76 390.04,76.60 390.30,76.44 390.57,76.26 390.84,76.08 391.10,75.89 391.37,75.68 391.64,75.46 391.90,75.23 392.17,74.99 392.44,74.73 392.70,74.46 392.97,74.17 393.24,73.86 393.50,73.53 393.77,73.19 394.04,72.82 394.30,72.43 394.57,72.02 394.83,71.59 395.10,71.13 395.37,70.65 395.63,70.15 395.90,69.62 396.17,69.07 396.43,68.49 396.70,67.88 396.97,67.26 397.23,66.61 397.50,65.94 397.77,65.25 398.03,64.54 398.30,63.81 398.57,63.07 398.83,62.32 399.10,61.56 399.37,60.79 399.63,60.01 399.90,59.23 400.16,58.46 400.43,57.68 400.70,56.91 400.96,56.15 401.23,55.40 401.50,54.66 401.76,53.93 402.03,53.21 402.30,52.51 402.56,51.83 402.83,51.16 403.10,50.51 403.36,49.88 403.63,49.27 403.90,48.67 404.16,48.09 404.43,47.52 404.69,46.97 404.96,46.44 405.23,45.92 405.49,45.42 405.76,44.92 406.03,44.44 406.29,43.97 406.56,43.52 406.83,43.07 407.09,42.63 407.36,42.20 407.63,41.78 407.89,41.36 408.16,40.96 408.43,40.56 408.69,40.16 408.96,39.78 409.23,39.39 409.49,39.02 409.76,38.64 410.02,38.28 410.29,37.91 410.56,37.55 410.82,37.20 411.09,36.85 411.36,36.50 411.62,36.16 411.89,35.82 412.16,35.49 412.42,35.16 412.69,34.84 412.96,34.51 413.22,34.20 413.49,33.88 413.76,33.57 414.02,33.27 414.29,32.97 414.55,32.67 414.82,32.38 415.09,32.09 415.35,31.81 415.62,31.53 415.89,31.26 416.15,30.99 416.42,30.73 416.69,30.47 416.95,30.21 417.22,29.96 417.49,29.72 417.75,29.48 418.02,29.24 418.29,29.01 418.55,28.78 418.82,28.56 419.09,28.34 419.35,28.13 419.62,27.92 419.88,27.72 420.15,27.52 420.42,27.32 420.68,27.13 420.95,26.95 421.22,26.77 421.48,26.59 421.75,26.42 422.02,26.25 422.28,26.08 422.55,25.92 422.82,25.76 423.08,25.61 423.35,25.46 423.62,25.31 423.88,25.17 424.15,25.03 424.42,24.89 424.68,24.76 424.95,24.63 425.21,24.50 425.48,24.38 425.75,24.26 426.01,24.14 426.28,24.02 426.55,23.91 426.81,23.80 427.08,23.69 427.35,23.59 427.61,23.48 427.88,23.38 428.15,23.28 428.41,23.19 428.68,23.09 428.95,23.00 429.21,22.91 429.48,22.82 429.74,22.73 430.01,22.65 430.28,22.57 430.54,22.48 430.81,22.40 431.08,22.32 431.34,22.25 431.61,22.17 431.88,22.10 432.14,22.02 432.41,21.95 432.68,21.88 432.94,21.81 433.21,21.74 433.48,21.67 433.74,21.61 434.01,21.54 434.28,21.48 434.54,21.41 434.81,21.35 435.07,21.29 435.34,21.23 435.61,21.17 435.87,21.11 436.14,21.05 436.41,20.99 436.67,20.93 436.94,20.88" fill="none" stroke="#1a1aff" stroke-width="1.1" stroke-linejoin="round" stroke-linecap="round" />
<polyline points="357.26,82.89 357.53,82.85 357.79,82.80 358.06,82.76 358.33,82.71 358.59,82.67 358.86,82.62 359.13,82.58 359.39,82.53 359.66,82.48 359.92,82.44 360.19,82.39 360.46,82.35 360.72,82.30 360.99,82.26 361.26,82.21 361.52,82.16 361.79,82.12 362.06,82.07 362.32,82.03 362.59,81.98 362.86,81.93 363.12,81.89 363.39,81.84 363.66,81.80 363.92,81.75 364.19,81.70 364.46,81.66 364.72,81.61 364.99,81.57 365.25,81.52 365.52,81.47 365.79,81.43 366.05,81.38 366.32,81.34 366.59,81.29 366.85,81.24 367.12,81.20 367.39,81.15 367.65,81.10 367.92,81.06 368.19,81.01 368.45,80.96 368.72,80.92 368.99,80.87 369.25,80.82 369.52,80.77 369.78,80.73 370.05,80.68 370.32,80.63 370.58,80.58 370.85,80.54 371.12,80.49 371.38,80.44 371.65,80.39 371.92,80.34 372.18,80.30 372.45,80.25 372.72,80.20 372.98,80.15 373.25,80.10 373.52,80.05 373.78,80.00 374.05,79.95 374.32,79.90 374.58,79.85 374.85,79.80 375.11,79.75 375.38,79.70 375.65,79.65 375.91,79.59 376.18,79.54 376.45,79.49 376.71,79.43 376.98,79.38 377.25,79.33 377.51,79.27 377.78,79.22 378.05,79.16 378.31,79.10 378.58,79.04 378.85,78.99 379.11,78.93 379.38,78.87 379.65,78.80 379.91,78.74 380.18,78.68 380.44,78.61 380.71,78.55 380.98,78.48 381.24,78.41 381.51,78.34 381.78,78.27 382.04,78.19 382.31,78.11 382.58,78.03 382.84,77.95 383.11,77.86 383.38,77.78 383.64,77.68 383.91,77.59 384.18,77.49 384.44,77.38 384.71,77.28 384.97,77.16 385.24,77.04 385.51,76.92 385.77,76.78 386.04,76.65 386.31,76.50 386.57,76.34 386.84,76.18 387.11,76.01 387.37,75.82 387.64,75.63 387.91,75.42 388.17,75.20 388.44,74.97 388.71,74.72 388.97,74.45 389.24,74.17 389.51,73.87 389.77,73.55 390.04,73.21 390.30,72.85 390.57,72.47 390.84,72.06 391.10,71.63 391.37,71.18 391.64,70.70 391.90,70.19 392.17,69.66 392.44,69.10 392.70,68.52 392.97,67.90 393.24,67.27 393.50,66.61 393.77,65.92 394.04,65.22 394.30,64.49 394.57,63.75 394.83,62.99 395.10,62.22 395.37,61.44 395.63,60.65 395.90,59.86 396.17,59.07 396.43,58.28 396.70,57.50 396.97,56.72 397.23,55.96 397.50,55.20 397.77,54.47 398.03,53.74 398.30,53.04 398.57,52.35 398.83,51.69 399.10,51.05 399.37,50.42 399.63,49.82 399.90,49.24 400.16,48.67 400.43,48.13 400.70,47.61 400.96,47.11 401.23,46.62 401.50,46.15 401.76,45.70 402.03,45.26 402.30,44.84 402.56,44.43 402.83,44.03 403.10,43.64 403.36,43.27 403.63,42.90 403.90,42.55 404.16,42.20 404.43,41.86 404.69,41.53 404.96,41.20 405.23,40.88 405.49,40.57 405.76,40.26 406.03,39.96 406.29,39.66 406.56,39.36 406.83,39.07 407.09,38.79 407.36,38.51 407.63,38.23 407.89,37.96 408.16,37.69 408.43,37.42 408.69,37.16 408.96,36.90 409.23,36.64 409.49,36.39 409.76,36.14 410.02,35.90 410.29,35.66 410.56,35.42 410.82,35.18 411.09,34.95 411.36,34.72 411.62,34.50 411.89,34.28 412.16,34.06 412.42,33.85 412.69,33.64 412.96,33.43 413.22,33.23 413.49,33.03 413.76,32.83 414.02,32.64 414.29,32.45 414.55,32.27 414.82,32.09 415.09,31.91 415.35,31.74 415.62,31.56 415.89,31.40 416.15,31.23 416.42,31.07 416.69,30.92 416.95,30.76 417.22,30.61 417.49,30.47 417.75,30.32 418.02,30.18 418.29,30.04 418.55,29.91 418.82,29.78 419.09,29.65 419.35,29.52 419.62,29.40 419.88,29.28 420.15,29.16 420.42,29.04 420.68,28.93 420.95,28.82 421.22,28.71 421.48,28.61 421.75,28.50 422.02,28.40 422.28,28.30 422.55,28.20 422.82,28.11 423.08,28.01 423.35,27.92 423.62,27.83 423.88,27.74 424.15,27.65 424.42,27.57 424.68,27.48 424.95,27.40 425.21,27.32 425.48,27.24 425.75,27.16 426.01,27.08 426.28,27.01 426.55,26.93 426.81,26.86 427.08,26.79 427.35,26.72 427.61,26.65 427.88,26.58 428.15,26.51 428.41,26.44 428.68,26.38 428.95,26.31 429.21,26.25 429.48,26.18 429.74,26.12 430.01,26.06 430.28,25.99 430.54,25.93 430.81,25.87 431.08,25.81 431.34,25.75 431.61,25.70 431.88,25.64 432.14,25.58 432.41,25.52 432.68,25.47 432.94,25.41 433.21,25.35 433.48,25.30 433.74,25.24 434.01,25.19 434.28,25.14 434.54,25.08 434.81,25.03 435.07,24.98 435.34,24.92 435.61,24.87 435.87,24.82 436.14,24.77 436.41,24.72 436.67,24.66 436.94,24.61" fill="none" stroke="#ff1a1a" stroke-width="1.1" stroke-linejoin="round" stroke-linecap="round" />
<rect x="63.7" y="149.6" width="147.7" height="140.4" fill="none" stroke="#6e6e6e" stroke-width="1.1"/>
<line x1="63.7" y1="259.15" x2="65.7" y2="259.15" stroke="#6e6e6e" stroke-width="1.1"/>
<line x1="63.7" y1="250.0" x2="66.3" y2="250.0" stroke="#6e6e6e" stroke-width="1.1"/>
<line x1="63.7" y1="240.85000000000002" x2="65.7" y2="240.85000000000002" stroke="#6e6e6e" stroke-width="1.1"/>
<line x1="63.7" y1="231.7" x2="66.3" y2="231.7" stroke="#6e6e6e" stroke-width="1.1"/>
<line x1="63.7" y1="222.55" x2="65.7" y2="222.55" stroke="#6e6e6e" stroke-width="1.1"/>
<line x1="63.7" y1="213.4" x2="66.3" y2="213.4" stroke="#6e6e6e" stroke-width="1.1"/>
<line x1="63.7" y1="204.25" x2="65.7" y2="204.25" stroke="#6e6e6e" stroke-width="1.1"/>
<line x1="63.7" y1="195.1" x2="66.3" y2="195.1" stroke="#6e6e6e" stroke-width="1.1"/>
<line x1="63.7" y1="185.95" x2="65.7" y2="185.95" stroke="#6e6e6e" stroke-width="1.1"/>
<line x1="63.7" y1="176.8" x2="66.3" y2="176.8" stroke="#6e6e6e" stroke-width="1.1"/>
<line x1="63.7" y1="167.65" x2="65.7" y2="167.65" stroke="#6e6e6e" stroke-width="1.1"/>
<line x1="63.7" y1="158.5" x2="66.3" y2="158.5" stroke="#6e6e6e" stroke-width="1.1"/>
<line x1="63.7" y1="149.35" x2="65.7" y2="149.35" stroke="#6e6e6e" stroke-width="1.1"/>
<text x="60.8" y="252.59" font-size="7.2" text-anchor="end">10<tspan font-size="5.3" dy="-2.74">-8</tspan></text>
<text x="60.8" y="234.29" font-size="7.2" text-anchor="end">10<tspan font-size="5.3" dy="-2.74">-6</tspan></text>
<text x="60.8" y="215.99" font-size="7.2" text-anchor="end">10<tspan font-size="5.3" dy="-2.74">-4</tspan></text>
<text x="60.8" y="197.69" font-size="7.2" text-anchor="end">10<tspan font-size="5.3" dy="-2.74">-2</tspan></text>
<text x="60.8" y="179.39" font-size="7.2" text-anchor="end">10<tspan font-size="5.3" dy="-2.74">0</tspan></text>
<text x="60.8" y="161.09" font-size="7.2" text-anchor="end">10<tspan font-size="5.3" dy="-2.74">2</tspan></text>
<text x="5.6" y="149.0" font-size="21.8" text-anchor="start" >(c)</text>
<text transform="translate(37.4,259.8) rotate(-90)" font-size="9.4">Leakage current [A/cm<tspan font-size="7.8" dy="-2.8">2</tspan><tspan dy="2.8">]</tspan></text>
<line x1="66.2" y1="154.4" x2="78.2" y2="154.4" stroke="#ff1a1a" stroke-width="1.25"/>
<line x1="66.2" y1="163.3" x2="78.2" y2="163.3" stroke="#1a1aff" stroke-width="1.25"/>
<text x="83.3" y="157.3" font-size="7.8" text-anchor="start" >dry 4H-SiC (000-1)</text>
<text x="83.0" y="166.2" font-size="7.8" text-anchor="start" >wet 4H-SiC (000-1)</text>
<clipPath id="cc"><rect x="63.6" y="149.5" width="147.4" height="120"/></clipPath>
<g clip-path="url(#cc)">
<polyline points="64.00,241.50 65.20,244.50 66.20,246.50 67.00,245.34 68.63,257.00 69.53,244.88 71.16,248.95 72.50,243.61 74.02,256.47 75.30,243.03 76.12,252.03 77.72,243.83 79.13,251.95 80.15,245.46 81.21,251.66 82.72,244.73 84.26,252.89 85.17,244.55 86.79,253.30 88.50,243.00 89.60,255.04 91.03,244.96 92.45,255.95 93.88,244.92 95.19,254.16 96.27,245.34 97.63,255.18 98.86,243.09 100.15,255.79 101.54,245.25 102.68,251.53 104.15,243.27 105.76,255.95 107.48,243.47 108.34,256.10 109.49,243.95 110.62,254.11 111.54,244.71 112.95,254.63 113.71,245.84 114.89,252.20 116.21,243.98 117.84,250.30 119.13,243.59 120.50,256.17 122.13,243.47 123.51,256.09 124.46,244.45 125.92,254.77 127.12,245.24 128.54,251.50 129.94,245.02 131.39,252.85 132.48,244.52 134.15,250.09 135.05,243.04 136.65,256.90 137.64,243.93 138.59,253.60 139.82,245.87 140.78,255.96 139.80,246.40 141.10,241.30 142.10,236.80 143.10,239.60 144.30,238.40 144.30,238.40 144.64,237.57 145.11,236.40 145.68,235.04 146.32,233.62 147.00,232.30 147.74,231.08 148.56,229.88 149.43,228.66 150.32,227.41 151.20,226.10 152.04,224.70 152.88,223.22 153.73,221.72 154.63,220.26 155.60,218.90 156.70,217.64 157.92,216.43 159.16,215.28 160.35,214.20 161.40,213.20 162.21,212.34 162.84,211.62 163.43,210.93 164.14,210.19 165.10,209.30 166.36,208.21 167.83,206.98 169.44,205.68 171.12,204.40 172.80,203.20 174.54,202.08 176.37,200.98 178.23,199.93 180.04,198.93 181.70,198.00 183.30,197.10 184.90,196.23 186.37,195.44 187.61,194.78 188.50,194.30 188.50,161.40 211.00,160.30" fill="none" stroke="#ff1a1a" stroke-width="1.1" stroke-linejoin="round" stroke-linecap="round" />
<polyline points="64.00,250.40 65.00,247.50 66.50,245.30 67.50,244.26 68.10,245.04 68.70,245.29 69.30,245.15 69.90,245.43 70.50,245.13 71.10,244.72 71.70,245.20 72.30,245.06 72.90,244.64 73.50,245.14 74.10,245.47 74.70,244.84 75.30,244.49 75.90,245.13 76.50,245.84 77.10,244.57 77.70,244.64 78.30,244.62 78.90,245.43 79.50,243.60 80.10,244.92 80.70,245.42 81.30,244.21 81.90,245.59 82.50,245.02 83.10,244.37 83.70,244.82 84.30,243.78 84.90,244.36 85.50,245.80 86.10,244.16 86.70,245.81 87.30,244.65 87.90,245.30 88.50,244.73 89.10,243.36 89.70,244.36 90.30,244.81 90.90,244.01 91.50,243.89 92.10,244.92 92.70,244.31 93.30,243.68 93.90,244.29 94.50,245.22 95.10,244.42 95.70,245.26 96.30,245.62 96.90,244.72 97.50,244.02 98.10,243.92 98.70,244.68 99.30,245.23 99.90,244.86 100.50,245.03 101.10,244.43 101.70,244.88 102.30,244.42 102.90,244.50 103.50,243.92 104.10,243.76 104.70,244.41 105.30,244.04 105.90,244.12 106.50,245.10 107.10,244.64 107.70,246.45 108.60,246.50 109.50,252.50 109.50,252.50 109.64,251.14 109.83,249.19 110.05,246.96 110.28,244.79 110.50,243.00 110.70,241.66 110.89,240.54 111.08,239.56 111.28,238.61 111.50,237.60 111.73,236.54 111.96,235.49 112.20,234.44 112.48,233.35 112.80,232.20 113.19,230.94 113.62,229.58 114.09,228.20 114.56,226.88 115.00,225.70 115.41,224.69 115.80,223.80 116.18,222.98 116.58,222.17 117.00,221.30 117.44,220.40 117.87,219.50 118.33,218.59 118.84,217.63 119.40,216.60 120.04,215.48 120.73,214.27 121.47,213.03 122.24,211.79 123.00,210.60 123.77,209.46 124.55,208.33 125.34,207.23 126.16,206.15 127.00,205.10 127.86,204.08 128.74,203.08 129.63,202.11 130.55,201.18 131.50,200.30 132.49,199.46 133.53,198.65 134.58,197.89 135.62,197.17 136.60,196.50 137.51,195.90 138.38,195.35 139.22,194.85 140.09,194.38 141.00,193.90 141.90,193.44 142.78,193.00 143.71,192.57 144.79,192.14 146.10,191.70 147.72,191.23 149.58,190.72 151.59,190.23 153.63,189.78 155.60,189.40 157.46,189.11 159.28,188.88 161.12,188.70 163.04,188.55 165.10,188.40 167.53,188.26 170.30,188.14 173.04,188.04 175.43,187.96 177.10,187.90 177.10,161.20 187.80,160.90" fill="none" stroke="#1a1aff" stroke-width="1.1" stroke-linejoin="round" stroke-linecap="round" />
</g>
<rect x="291.3" y="149.6" width="151.3" height="140.4" fill="none" stroke="#6e6e6e" stroke-width="1.1"/>
<line x1="291.3" y1="263.3" x2="293.3" y2="263.3" stroke="#6e6e6e" stroke-width="1.1"/>
<line x1="291.3" y1="255.7" x2="293.90000000000003" y2="255.7" stroke="#6e6e6e" stroke-width="1.1"/>
<line x1="291.3" y1="248.10000000000002" x2="293.3" y2="248.10000000000002" stroke="#6e6e6e" stroke-width="1.1"/>
<line x1="291.3" y1="240.5" x2="293.90000000000003" y2="240.5" stroke="#6e6e6e" stroke-width="1.1"/>
<line x1="291.3" y1="232.9" x2="293.3" y2="232.9" stroke="#6e6e6e" stroke-width="1.1"/>
<line x1="291.3" y1="225.3" x2="293.90000000000003" y2="225.3" stroke="#6e6e6e" stroke-width="1.1"/>
<line x1="291.3" y1="217.7" x2="293.3" y2="217.7" stroke="#6e6e6e" stroke-width="1.1"/>
<line x1="291.3" y1="210.10000000000002" x2="293.90000000000003" y2="210.10000000000002" stroke="#6e6e6e" stroke-width="1.1"/>
<line x1="291.3" y1="202.5" x2="293.3" y2="202.5" stroke="#6e6e6e" stroke-width="1.1"/>
<line x1="291.3" y1="194.9" x2="293.90000000000003" y2="194.9" stroke="#6e6e6e" stroke-width="1.1"/>
<line x1="291.3" y1="187.3" x2="293.3" y2="187.3" stroke="#6e6e6e" stroke-width="1.1"/>
<line x1="291.3" y1="179.70000000000002" x2="293.90000000000003" y2="179.70000000000002" stroke="#6e6e6e" stroke-width="1.1"/>
<line x1="291.3" y1="172.10000000000002" x2="293.3" y2="172.10000000000002" stroke="#6e6e6e" stroke-width="1.1"/>
<line x1="291.3" y1="164.5" x2="293.90000000000003" y2="164.5" stroke="#6e6e6e" stroke-width="1.1"/>
<line x1="291.3" y1="156.9" x2="293.3" y2="156.9" stroke="#6e6e6e" stroke-width="1.1"/>
<line x1="291.3" y1="149.3" x2="293.90000000000003" y2="149.3" stroke="#6e6e6e" stroke-width="1.1"/>
<text x="288.8" y="258.60" font-size="8.1" text-anchor="end" >2</text>
<text x="288.8" y="243.40" font-size="8.1" text-anchor="end" >4</text>
<text x="288.8" y="228.20" font-size="8.1" text-anchor="end" >6</text>
<text x="288.8" y="213.00" font-size="8.1" text-anchor="end" >8</text>
<text x="288.8" y="197.80" font-size="8.1" text-anchor="end" >10</text>
<text x="288.8" y="182.60" font-size="8.1" text-anchor="end" >12</text>
<text x="288.8" y="167.40" font-size="8.1" text-anchor="end" >14</text>
<text x="288.8" y="152.20" font-size="8.1" text-anchor="end" >16</text>
<text x="235.6" y="149.0" font-size="21.8" text-anchor="start" >(d)</text>
<text transform="translate(271.5,242.6) rotate(-90)" font-size="9.4">Capacitance [pF]</text>
<line x1="294.5" y1="156.2" x2="316.8" y2="156.2" stroke="#ff1a1a" stroke-width="1.25"/>
<line x1="294.5" y1="166.7" x2="316.8" y2="166.7" stroke="#1a1aff" stroke-width="1.25"/>
<text x="319.2" y="158.9" font-size="8.25" text-anchor="start" >dry 4H-SiC (000-1)</text>
<text x="319.2" y="169.2" font-size="8.25" text-anchor="start" >wet 4H-SiC (000-1)</text>
<clipPath id="cd"><rect x="291.4" y="149.5" width="151.2" height="120"/></clipPath>
<g clip-path="url(#cd)">
<polyline points="330.50,254.00 330.80,253.79 331.21,253.51 331.69,253.17 332.24,252.80 332.81,252.40 333.40,252.00 334.01,251.59 334.65,251.14 335.33,250.68 336.04,250.20 336.76,249.70 337.50,249.20 338.28,248.68 339.13,248.15 339.99,247.60 340.83,247.04 341.61,246.47 342.30,245.90 342.86,245.37 343.32,244.89 343.73,244.39 344.11,243.84 344.52,243.16 345.00,242.30 345.53,241.26 346.09,240.09 346.66,238.79 347.27,237.38 347.91,235.88 348.60,234.30 349.36,232.57 350.21,230.68 351.09,228.69 351.96,226.68 352.78,224.72 353.50,222.90 354.10,221.20 354.60,219.57 355.06,218.00 355.50,216.47 355.96,214.97 356.50,213.50 357.10,212.04 357.74,210.60 358.41,209.19 359.09,207.83 359.79,206.53 360.50,205.30 361.20,204.14 361.91,203.05 362.62,202.02 363.37,201.04 364.16,200.10 365.00,199.20 365.89,198.35 366.81,197.55 367.78,196.80 368.80,196.08 369.87,195.39 371.00,194.70 372.20,194.02 373.45,193.36 374.76,192.72 376.13,192.11 377.54,191.54 379.00,191.00 380.51,190.51 382.08,190.06 383.70,189.64 385.36,189.24 387.06,188.87 388.80,188.50 390.54,188.15 392.29,187.81 394.08,187.49 395.93,187.19 397.90,186.89 400.00,186.60 402.28,186.31 404.72,186.02 407.26,185.74 409.86,185.47 412.46,185.22 415.00,185.00 417.52,184.80 420.07,184.63 422.62,184.48 425.15,184.34 427.62,184.22 430.00,184.10 432.43,183.99 434.96,183.89 437.44,183.79 439.70,183.71 441.61,183.65 443.00,183.60" fill="none" stroke="#1a1aff" stroke-width="1.25" stroke-linejoin="round" stroke-linecap="round" />
<polyline points="337.00,254.00 337.26,253.79 337.59,253.51 337.99,253.17 338.47,252.80 339.00,252.40 339.60,252.00 340.28,251.57 341.06,251.11 341.90,250.63 342.77,250.13 343.65,249.65 344.50,249.20 345.35,248.76 346.23,248.32 347.12,247.89 347.98,247.48 348.78,247.11 349.50,246.80 350.01,246.55 350.30,246.36 350.53,246.21 350.87,246.07 351.47,245.94 352.50,245.80 354.00,245.65 355.87,245.50 358.00,245.36 360.30,245.21 362.66,245.06 365.00,244.90 367.35,244.73 369.79,244.56 372.29,244.38 374.85,244.20 377.42,244.00 380.00,243.80 382.69,243.59 385.53,243.38 388.39,243.16 391.14,242.92 393.66,242.67 395.80,242.40 397.50,242.13 398.84,241.87 399.95,241.60 400.93,241.28 401.91,240.89 403.00,240.40 404.19,239.84 405.39,239.23 406.57,238.56 407.75,237.78 408.89,236.87 410.00,235.80 411.08,234.50 412.15,232.98 413.19,231.33 414.19,229.64 415.13,228.00 416.00,226.50 416.78,225.14 417.48,223.84 418.12,222.59 418.74,221.37 419.36,220.18 420.00,219.00 420.67,217.84 421.33,216.71 422.00,215.61 422.67,214.51 423.33,213.41 424.00,212.30 424.66,211.18 425.30,210.07 425.94,208.95 426.59,207.82 427.28,206.68 428.00,205.50 428.77,204.26 429.59,202.96 430.43,201.64 431.29,200.34 432.15,199.11 433.00,198.00 433.85,197.00 434.70,196.09 435.56,195.25 436.41,194.46 437.26,193.72 438.10,193.00 438.98,192.29 439.93,191.59 440.87,190.94 441.74,190.35 442.47,189.86 443.00,189.50" fill="none" stroke="#ff1a1a" stroke-width="1.25" stroke-linejoin="round" stroke-linecap="round" />
</g>
<line x1="350.2" y1="253.5" x2="345.6" y2="247.2" stroke="#111" stroke-width="1.2"/>
<polygon points="345.6,247.2 349.77,249.35 346.38,251.83" fill="#111"/>
<line x1="391.2" y1="253.5" x2="386.6" y2="247.2" stroke="#111" stroke-width="1.2"/>
<polygon points="386.6,247.2 390.77,249.35 387.38,251.83" fill="#111"/>
</g>
</svg>
</body></html>
